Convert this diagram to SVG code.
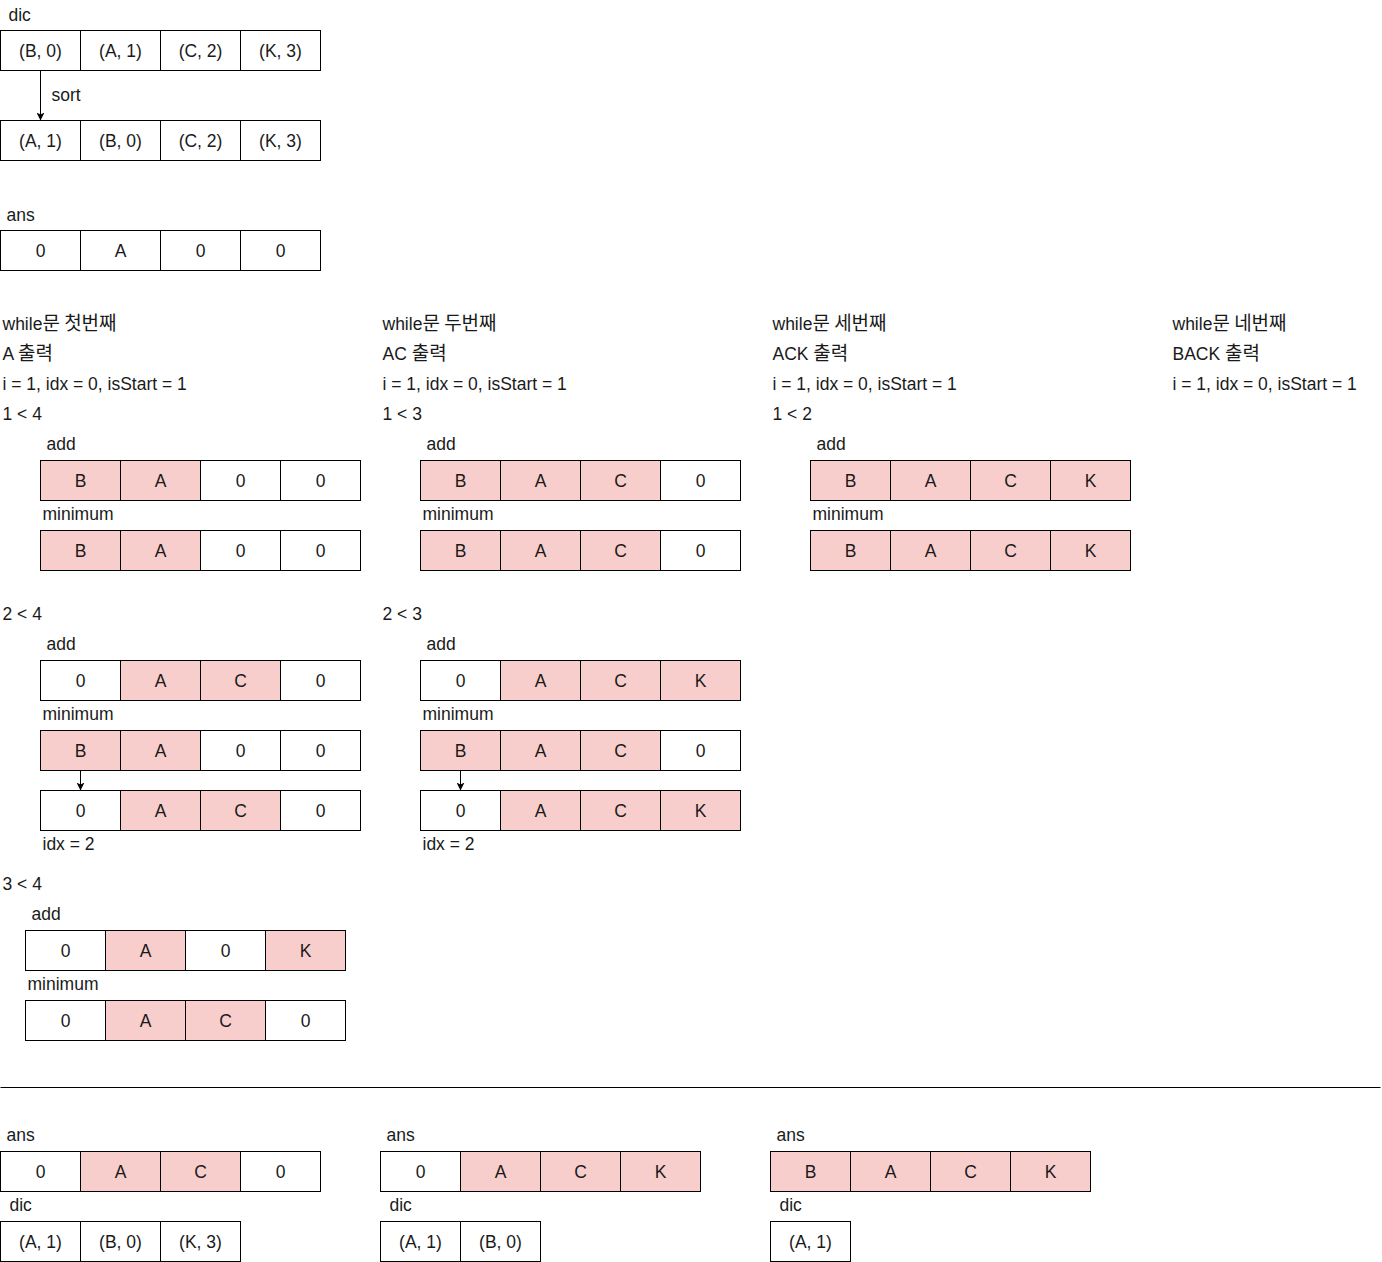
<svg xmlns="http://www.w3.org/2000/svg" width="1382" height="1262" viewBox="0 0 1382 1262">
<defs>
<style>
text{font-family:"Liberation Sans","Noto Sans CJK KR",sans-serif;font-size:17.5px;fill:#1a1a1a}
.k{font-family:"Noto Sans CJK KR",sans-serif;font-size:19px}
.c{text-anchor:middle}
rect{stroke:#000;stroke-width:1}
.w{fill:#fff}
.p{fill:#f8cecc}
.ln{stroke:#000;stroke-width:1;fill:none}
</style>
<marker id="ah" viewBox="0 0 10 10" refX="10" refY="5" markerWidth="8" markerHeight="8" markerUnits="userSpaceOnUse" orient="auto">
<path d="M0,0 L10,5 L0,10 L2.5,5 Z" fill="#000"/>
</marker>
</defs>
<rect x="-1" y="-1" width="1384" height="1264" fill="#fff" stroke="none"/>
<g transform="translate(0.5,0)">
<g id="labels">
<text x="8" y="21">dic</text>
<text x="51" y="101">sort</text>
<text x="6" y="221">ans</text>
<text x="2" y="330">while<tspan class="k">문 첫번째</tspan></text>
<text x="2" y="360">A <tspan class="k">출력</tspan></text>
<text x="2" y="390">i = 1, idx = 0, isStart = 1</text>
<text x="2" y="420">1 &lt; 4</text>
<text x="46" y="450">add</text>
<text x="42" y="520">minimum</text>
<text x="2" y="620">2 &lt; 4</text>
<text x="46" y="650">add</text>
<text x="42" y="720">minimum</text>
<text x="42" y="850">idx = 2</text>
<text x="2" y="890">3 &lt; 4</text>
<text x="31" y="920">add</text>
<text x="27" y="990">minimum</text>
<text x="382" y="330">while<tspan class="k">문 두번째</tspan></text>
<text x="382" y="360">AC <tspan class="k">출력</tspan></text>
<text x="382" y="390">i = 1, idx = 0, isStart = 1</text>
<text x="382" y="420">1 &lt; 3</text>
<text x="426" y="450">add</text>
<text x="422" y="520">minimum</text>
<text x="382" y="620">2 &lt; 3</text>
<text x="426" y="650">add</text>
<text x="422" y="720">minimum</text>
<text x="422" y="850">idx = 2</text>
<text x="772" y="330">while<tspan class="k">문 세번째</tspan></text>
<text x="772" y="360">ACK <tspan class="k">출력</tspan></text>
<text x="772" y="390">i = 1, idx = 0, isStart = 1</text>
<text x="772" y="420">1 &lt; 2</text>
<text x="816" y="450">add</text>
<text x="812" y="520">minimum</text>
<text x="1172" y="330">while<tspan class="k">문 네번째</tspan></text>
<text x="1172" y="360">BACK <tspan class="k">출력</tspan></text>
<text x="1172" y="390">i = 1, idx = 0, isStart = 1</text>
<text x="6" y="1141">ans</text>
<text x="9" y="1211">dic</text>
<text x="386" y="1141">ans</text>
<text x="389" y="1211">dic</text>
<text x="776" y="1141">ans</text>
<text x="779" y="1211">dic</text>
</g>
<g transform="translate(0,0.5)">
<g id="dic0">
<rect class="w" x="0" y="30" width="80" height="40"/><text class="c" x="40" y="56">(B, 0)</text>
<rect class="w" x="80" y="30" width="80" height="40"/><text class="c" x="120" y="56">(A, 1)</text>
<rect class="w" x="160" y="30" width="80" height="40"/><text class="c" x="200" y="56">(C, 2)</text>
<rect class="w" x="240" y="30" width="80" height="40"/><text class="c" x="280" y="56">(K, 3)</text>
</g>
<g id="dicSorted">
<rect class="w" x="0" y="120" width="80" height="40"/><text class="c" x="40" y="146">(A, 1)</text>
<rect class="w" x="80" y="120" width="80" height="40"/><text class="c" x="120" y="146">(B, 0)</text>
<rect class="w" x="160" y="120" width="80" height="40"/><text class="c" x="200" y="146">(C, 2)</text>
<rect class="w" x="240" y="120" width="80" height="40"/><text class="c" x="280" y="146">(K, 3)</text>
</g>
<g id="ans0">
<rect class="w" x="0" y="230" width="80" height="40"/><text class="c" x="40" y="256">0</text>
<rect class="w" x="80" y="230" width="80" height="40"/><text class="c" x="120" y="256">A</text>
<rect class="w" x="160" y="230" width="80" height="40"/><text class="c" x="200" y="256">0</text>
<rect class="w" x="240" y="230" width="80" height="40"/><text class="c" x="280" y="256">0</text>
</g>
<g id="s1add1">
<rect class="p" x="40" y="460" width="80" height="40"/><text class="c" x="80" y="486">B</text>
<rect class="p" x="120" y="460" width="80" height="40"/><text class="c" x="160" y="486">A</text>
<rect class="w" x="200" y="460" width="80" height="40"/><text class="c" x="240" y="486">0</text>
<rect class="w" x="280" y="460" width="80" height="40"/><text class="c" x="320" y="486">0</text>
</g>
<g id="s1min1">
<rect class="p" x="40" y="530" width="80" height="40"/><text class="c" x="80" y="556">B</text>
<rect class="p" x="120" y="530" width="80" height="40"/><text class="c" x="160" y="556">A</text>
<rect class="w" x="200" y="530" width="80" height="40"/><text class="c" x="240" y="556">0</text>
<rect class="w" x="280" y="530" width="80" height="40"/><text class="c" x="320" y="556">0</text>
</g>
<g id="s1add2">
<rect class="w" x="40" y="660" width="80" height="40"/><text class="c" x="80" y="686">0</text>
<rect class="p" x="120" y="660" width="80" height="40"/><text class="c" x="160" y="686">A</text>
<rect class="p" x="200" y="660" width="80" height="40"/><text class="c" x="240" y="686">C</text>
<rect class="w" x="280" y="660" width="80" height="40"/><text class="c" x="320" y="686">0</text>
</g>
<g id="s1min2">
<rect class="p" x="40" y="730" width="80" height="40"/><text class="c" x="80" y="756">B</text>
<rect class="p" x="120" y="730" width="80" height="40"/><text class="c" x="160" y="756">A</text>
<rect class="w" x="200" y="730" width="80" height="40"/><text class="c" x="240" y="756">0</text>
<rect class="w" x="280" y="730" width="80" height="40"/><text class="c" x="320" y="756">0</text>
</g>
<g id="s1min2b">
<rect class="w" x="40" y="790" width="80" height="40"/><text class="c" x="80" y="816">0</text>
<rect class="p" x="120" y="790" width="80" height="40"/><text class="c" x="160" y="816">A</text>
<rect class="p" x="200" y="790" width="80" height="40"/><text class="c" x="240" y="816">C</text>
<rect class="w" x="280" y="790" width="80" height="40"/><text class="c" x="320" y="816">0</text>
</g>
<g id="s1add3">
<rect class="w" x="25" y="930" width="80" height="40"/><text class="c" x="65" y="956">0</text>
<rect class="p" x="105" y="930" width="80" height="40"/><text class="c" x="145" y="956">A</text>
<rect class="w" x="185" y="930" width="80" height="40"/><text class="c" x="225" y="956">0</text>
<rect class="p" x="265" y="930" width="80" height="40"/><text class="c" x="305" y="956">K</text>
</g>
<g id="s1min3">
<rect class="w" x="25" y="1000" width="80" height="40"/><text class="c" x="65" y="1026">0</text>
<rect class="p" x="105" y="1000" width="80" height="40"/><text class="c" x="145" y="1026">A</text>
<rect class="p" x="185" y="1000" width="80" height="40"/><text class="c" x="225" y="1026">C</text>
<rect class="w" x="265" y="1000" width="80" height="40"/><text class="c" x="305" y="1026">0</text>
</g>
<g id="s2add1">
<rect class="p" x="420" y="460" width="80" height="40"/><text class="c" x="460" y="486">B</text>
<rect class="p" x="500" y="460" width="80" height="40"/><text class="c" x="540" y="486">A</text>
<rect class="p" x="580" y="460" width="80" height="40"/><text class="c" x="620" y="486">C</text>
<rect class="w" x="660" y="460" width="80" height="40"/><text class="c" x="700" y="486">0</text>
</g>
<g id="s2min1">
<rect class="p" x="420" y="530" width="80" height="40"/><text class="c" x="460" y="556">B</text>
<rect class="p" x="500" y="530" width="80" height="40"/><text class="c" x="540" y="556">A</text>
<rect class="p" x="580" y="530" width="80" height="40"/><text class="c" x="620" y="556">C</text>
<rect class="w" x="660" y="530" width="80" height="40"/><text class="c" x="700" y="556">0</text>
</g>
<g id="s2add2">
<rect class="w" x="420" y="660" width="80" height="40"/><text class="c" x="460" y="686">0</text>
<rect class="p" x="500" y="660" width="80" height="40"/><text class="c" x="540" y="686">A</text>
<rect class="p" x="580" y="660" width="80" height="40"/><text class="c" x="620" y="686">C</text>
<rect class="p" x="660" y="660" width="80" height="40"/><text class="c" x="700" y="686">K</text>
</g>
<g id="s2min2">
<rect class="p" x="420" y="730" width="80" height="40"/><text class="c" x="460" y="756">B</text>
<rect class="p" x="500" y="730" width="80" height="40"/><text class="c" x="540" y="756">A</text>
<rect class="p" x="580" y="730" width="80" height="40"/><text class="c" x="620" y="756">C</text>
<rect class="w" x="660" y="730" width="80" height="40"/><text class="c" x="700" y="756">0</text>
</g>
<g id="s2min2b">
<rect class="w" x="420" y="790" width="80" height="40"/><text class="c" x="460" y="816">0</text>
<rect class="p" x="500" y="790" width="80" height="40"/><text class="c" x="540" y="816">A</text>
<rect class="p" x="580" y="790" width="80" height="40"/><text class="c" x="620" y="816">C</text>
<rect class="p" x="660" y="790" width="80" height="40"/><text class="c" x="700" y="816">K</text>
</g>
<g id="s3add1">
<rect class="p" x="810" y="460" width="80" height="40"/><text class="c" x="850" y="486">B</text>
<rect class="p" x="890" y="460" width="80" height="40"/><text class="c" x="930" y="486">A</text>
<rect class="p" x="970" y="460" width="80" height="40"/><text class="c" x="1010" y="486">C</text>
<rect class="p" x="1050" y="460" width="80" height="40"/><text class="c" x="1090" y="486">K</text>
</g>
<g id="s3min1">
<rect class="p" x="810" y="530" width="80" height="40"/><text class="c" x="850" y="556">B</text>
<rect class="p" x="890" y="530" width="80" height="40"/><text class="c" x="930" y="556">A</text>
<rect class="p" x="970" y="530" width="80" height="40"/><text class="c" x="1010" y="556">C</text>
<rect class="p" x="1050" y="530" width="80" height="40"/><text class="c" x="1090" y="556">K</text>
</g>
<g id="ans1">
<rect class="w" x="0" y="1151" width="80" height="40"/><text class="c" x="40" y="1177">0</text>
<rect class="p" x="80" y="1151" width="80" height="40"/><text class="c" x="120" y="1177">A</text>
<rect class="p" x="160" y="1151" width="80" height="40"/><text class="c" x="200" y="1177">C</text>
<rect class="w" x="240" y="1151" width="80" height="40"/><text class="c" x="280" y="1177">0</text>
</g>
<g id="dic1">
<rect class="w" x="0" y="1221" width="80" height="40"/><text class="c" x="40" y="1247">(A, 1)</text>
<rect class="w" x="80" y="1221" width="80" height="40"/><text class="c" x="120" y="1247">(B, 0)</text>
<rect class="w" x="160" y="1221" width="80" height="40"/><text class="c" x="200" y="1247">(K, 3)</text>
</g>
<g id="ans2">
<rect class="w" x="380" y="1151" width="80" height="40"/><text class="c" x="420" y="1177">0</text>
<rect class="p" x="460" y="1151" width="80" height="40"/><text class="c" x="500" y="1177">A</text>
<rect class="p" x="540" y="1151" width="80" height="40"/><text class="c" x="580" y="1177">C</text>
<rect class="p" x="620" y="1151" width="80" height="40"/><text class="c" x="660" y="1177">K</text>
</g>
<g id="dic2">
<rect class="w" x="380" y="1221" width="80" height="40"/><text class="c" x="420" y="1247">(A, 1)</text>
<rect class="w" x="460" y="1221" width="80" height="40"/><text class="c" x="500" y="1247">(B, 0)</text>
</g>
<g id="ans3">
<rect class="p" x="770" y="1151" width="80" height="40"/><text class="c" x="810" y="1177">B</text>
<rect class="p" x="850" y="1151" width="80" height="40"/><text class="c" x="890" y="1177">A</text>
<rect class="p" x="930" y="1151" width="80" height="40"/><text class="c" x="970" y="1177">C</text>
<rect class="p" x="1010" y="1151" width="80" height="40"/><text class="c" x="1050" y="1177">K</text>
</g>
<g id="dic3">
<rect class="w" x="770" y="1221" width="80" height="40"/><text class="c" x="810" y="1247">(A, 1)</text>
</g>
<g id="connectors">
<line class="ln" x1="40" y1="70" x2="40" y2="120" marker-end="url(#ah)"/>
<line class="ln" x1="80" y1="770" x2="80" y2="790" marker-end="url(#ah)"/>
<line class="ln" x1="460" y1="770" x2="460" y2="790" marker-end="url(#ah)"/>
<line class="ln" x1="0" y1="1087" x2="1380" y2="1087"/>
</g>
</g>
</g>
</svg>
